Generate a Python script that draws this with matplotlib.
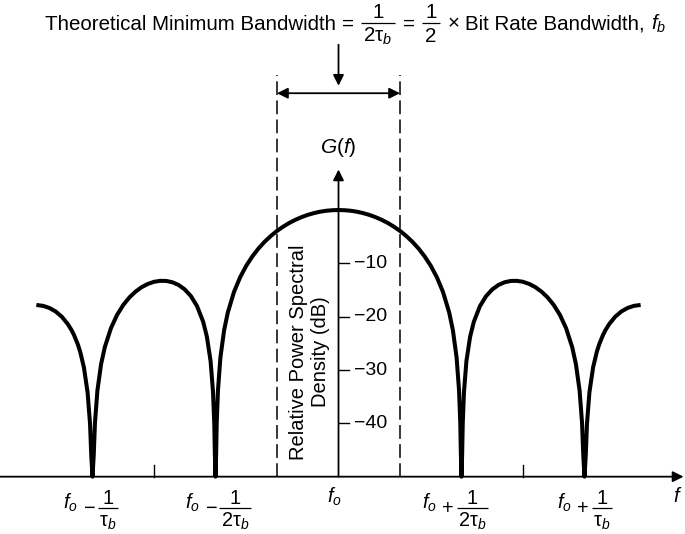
import matplotlib
matplotlib.use("Agg")
import numpy as np
import matplotlib.pyplot as plt
from matplotlib.transforms import IdentityTransform

plt.rcParams["font.family"] = ["Liberation Sans", "DejaVu Sans"]
plt.rcParams["mathtext.fontset"] = "custom"
plt.rcParams["mathtext.rm"] = "Liberation Sans"
plt.rcParams["mathtext.it"] = "Liberation Sans:italic"
plt.rcParams["mathtext.bf"] = "Liberation Sans:bold"

# frequency offset from f_o in units of 1/(2 tau_b), right half of the spectrum
half_u = [0.0, 0.05, 0.1, 0.15, 0.2, 0.25, 0.3, 0.35, 0.4, 0.45, 0.5, 0.55,
          0.6, 0.65, 0.7, 0.75, 0.8, 0.85, 0.9, 0.93, 0.96, 0.98, 0.99,
          0.995, 1.0, 1.005, 1.01, 1.02, 1.04, 1.07, 1.1, 1.15, 1.2, 1.25,
          1.3, 1.35, 1.4, 1.45, 1.5, 1.55, 1.6, 1.65, 1.7, 1.75, 1.8, 1.85,
          1.9, 1.93, 1.96, 1.98, 1.99, 2.0, 2.01, 2.02, 2.04, 2.07, 2.1,
          2.12, 2.15, 2.17, 2.2, 2.25, 2.3, 2.35, 2.4, 2.44]
# relative power spectral density (dB), -50 = baseline
half_db = [0.0, -0.04, -0.14, -0.32, -0.58, -0.91, -1.33, -1.83, -2.42,
           -3.12, -3.92, -4.86, -5.94, -7.20, -8.69, -10.45, -12.62, -15.39,
           -19.23, -22.54, -27.63, -33.81, -39.91, -45.98, -50.0, -46.06,
           -40.09, -34.16, -28.32, -23.76, -20.97, -18.02, -16.14, -14.89,
           -14.06, -13.55, -13.30, -13.28, -13.46, -13.86, -14.46, -15.30,
           -16.39, -17.81, -19.66, -22.15, -25.72, -28.88, -33.83, -39.92,
           -45.98, -50.0, -46.07, -40.09, -34.17, -29.49, -26.59, -25.15,
           -23.45, -22.54, -21.41, -20.00, -19.02, -18.37, -17.98, -17.85]

TAU = r"$\mathrm{\tau}_b$"
TAU2 = r"$2\mathrm{\tau}_b$"
xtick_pos = [-2, -1, 0, 1, 2]
xtick_signs = ["\u2212", "\u2212", None, "+", "+"]
xtick_dens = [TAU, TAU2, None, TAU2, TAU]
xtick_shift = [-0.016, 0.02, -0.035, -0.05, 0.0]
minor_ticks = [-1.5, 1.5]
db_ticks = [-10, -20, -30, -40]
band_edges = [-0.5, 0.5]
floor_db = -50

u = np.concatenate([-np.array(half_u[:0:-1]), np.array(half_u)])
db = np.concatenate([np.array(half_db[:0:-1]), np.array(half_db)])

fig = plt.figure(figsize=(6.85, 5.34), dpi=100)
ax = fig.add_axes([0, 0, 1, 1])
ax.set_xlim(-2.752, 2.817)
ax.set_ylim(-60.75, 39.38)
ax.axis("off")
renderer = fig.canvas.get_renderer()
px = IdentityTransform()


def text_width(s, size):
    t = ax.text(0, 0, s, fontsize=size, transform=px)
    w = t.get_window_extent(renderer).width
    t.remove()
    return w


def draw_row(xc, yb, parts, size, bar_em):
    # text pieces and stacked fractions on one baseline
    X, Y = ax.transData.transform((xc, yb))
    em = size * 100 / 72
    bar = Y + bar_em * em
    widths = []
    for p in parts:
        if p[0] == "t":
            widths.append(text_width(p[1], size))
        elif p[0] == "g":
            widths.append(p[1] * em)
        else:
            widths.append(max(text_width(p[1], size),
                              text_width(p[2], size)) + p[3] * em)
    x = X - sum(widths) / 2
    for p, w in zip(parts, widths):
        if p[0] == "t":
            dy = p[2] if len(p) > 2 else 0.0
            ax.text(x, Y + dy * em, p[1], fontsize=size, ha="left",
                    va="baseline", transform=px)
        elif p[0] == "f":
            cx = x + w / 2
            ax.text(cx, bar + 0.2 * em, p[1], fontsize=size, ha="center",
                    va="baseline", transform=px)
            ax.text(cx, bar - 0.95 * em, p[2], fontsize=size, ha="center",
                    va="baseline", transform=px)
            ax.plot([x, x + w], [bar, bar], color="black", lw=0.9,
                    transform=px, solid_capstyle="butt")
        x += w


arrow = dict(color="black", lw=1.3, shrinkA=0, shrinkB=0, mutation_scale=16)

# spectrum
ax.plot(u, db, color="black", lw=2.9, solid_joinstyle="round", zorder=3)

# axes with arrow heads
ax.annotate("", xy=(2.805, floor_db), xytext=(-2.752, floor_db),
            arrowprops=dict(arrowstyle="-|>", **arrow))
ax.annotate("", xy=(0, 7.6), xytext=(0, floor_db),
            arrowprops=dict(arrowstyle="-|>", **arrow))
ax.text(0, 11.8, r"$G(f)$", ha="center", va="center", fontsize=15)
ax.text(2.76, -53.8, r"$f$", ha="center", va="center", fontsize=14.5)

# x ticks
for p in minor_ticks:
    ax.plot([p, p], [floor_db, floor_db + 2.2], color="black", lw=1.0)
for p, sign, den, sh in zip(xtick_pos, xtick_signs, xtick_dens, xtick_shift):
    if sign is None:
        draw_row(p + sh, -54.94, [("t", r"$f_o$")], 14.3, 0.0)
    else:
        draw_row(p + sh, -56.07, [("t", r"$f_o$"), ("g", 0.25),
                                  ("t", sign, -0.25), ("g", 0.15),
                                  ("f", "1", den, 0.15)], 14.3, 0.05)

# y ticks
for d in db_ticks:
    ax.plot([0, 0.085], [d, d], color="black", lw=1.0)
    ax.text(0.13, d, "\u2212%d" % abs(d), ha="left", va="center", fontsize=14)
ax.text(-0.235, -26.6, "Relative Power Spectral\nDensity (dB)", rotation=90,
        ha="center", va="center", fontsize=14.5, linespacing=1.25,
        multialignment="center")

# minimum bandwidth markers
for e in band_edges:
    ax.plot([e, e], [floor_db, 25.3], color="black", lw=1.1,
            ls=(0, (9, 3.5)))
ax.annotate("", xy=(band_edges[1], 21.9), xytext=(band_edges[0], 21.9),
            arrowprops=dict(arrowstyle="<|-|>", **arrow))
ax.annotate("", xy=(0, 23.3), xytext=(0, 31.0),
            arrowprops=dict(arrowstyle="-|>", **arrow))
draw_row(0.138, 33.81,
         [("t", "Theoretical Minimum Bandwidth"), ("g", 0.3), ("t", "="),
          ("g", 0.35), ("f", "1", TAU2, 0.2), ("g", 0.4), ("t", "="),
          ("g", 0.35), ("f", "1", "2", 0.3), ("g", 0.4), ("t", "\u00d7"),
          ("g", 0.25), ("t", "Bit Rate Bandwidth,"), ("g", 0.3),
          ("t", r"$f_b$")], 14.8, 0.35)

fig.savefig("out.png", dpi=100)
